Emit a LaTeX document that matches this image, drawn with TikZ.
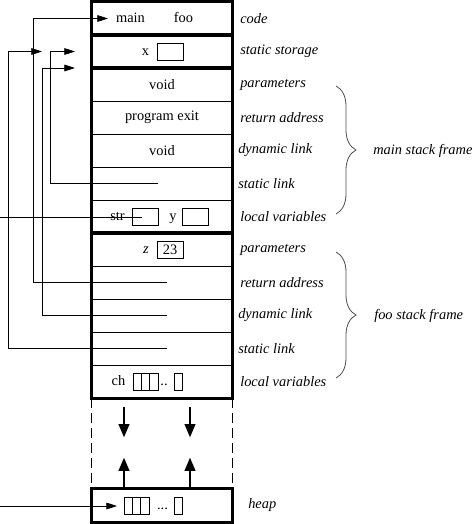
\documentclass[tikz,border=0pt]{standalone}
\usepackage{fontspec}
\setmainfont{Liberation Serif}
\usetikzlibrary{positioning}
\usetikzlibrary{arrows.meta}
\usetikzlibrary{decorations.pathreplacing}

\begin{document}
\begin{tikzpicture}[
        x=0.75pt, y=-0.75pt,
        font=\fontsize{10.8pt}{13pt}\selectfont,
        slot/.style={rectangle, draw, line width=0.6pt, minimum width=105pt, minimum height=24.75pt, inner sep=0pt},
        frame/.style={draw, line width=2.25pt},
        txt/.style={inner sep=0pt, text height=1.55ex, text depth=0.25ex},
        rolelabel/.style={anchor=west, inner sep=0pt, font=\fontsize{10.8pt}{13pt}\selectfont\itshape},
        varbox/.style={rectangle, draw, line width=0.6pt, minimum width=19.5pt, minimum height=12.75pt, inner sep=0pt},
        arrcell/.style={rectangle, draw, line width=0.6pt, minimum width=6.25pt, minimum height=12.75pt, inner sep=0pt},
        ptr/.style={-{Triangle[length=8pt, width=5pt]}, line width=0.6pt},
        growth/.style={-{Triangle[length=10pt, width=8pt]}, line width=1.5pt},
        frameline/.style={line width=0.6pt, dash pattern=on 7.5pt off 3.75pt},
        framebrace/.style={decorate, decoration={brace, amplitude=15pt}, line width=0.6pt, black!70},
        ]
        \useasboundingbox (0,0) rectangle (474,524);

        %Code and static storage
        \node[slot]     (code)     at (162,18.5)  {};
        \node[txt]      (cmain)    at (130.5,18.5) {main};
        \node[txt]      (cfoo)     at (183.5,18.5) {foo};
        \node[slot]     (static)   at (162,51.5)  {};
        \node[txt]      (xname)    at (145.5,51.5) {x};
        \node[varbox]   (xbox)     at (170,51.5)  {};

        %main stack frame
        \node[slot]     (mpar)     at (162,84.5)  {void};
        \node[slot]     (mret)     at (162,117.5) {program exit};
        \node[slot]     (mdyn)     at (162,150.5) {void};
        \node[slot]     (mstat)    at (162,183.5) {};
        \node[slot]     (mloc)     at (162,216.5) {};
        \node[txt]      (strname)  at (117.5,216.5) {str};
        \node[varbox]   (strbox)   at (145.5,216.5) {};
        \node[txt]      (yname)    at (173,216.5) {y};
        \node[varbox]   (ybox)     at (195,216.5) {};

        %foo stack frame
        \node[slot]     (fpar)     at (162,249.5) {};
        \node[txt]      (zname)    at (146,249.5) {\itshape z};
        \node[varbox]   (zbox)     at (170,249.5) {23};
        \node[slot]     (fret)     at (162,282.5) {};
        \node[slot]     (fdyn)     at (162,315.5) {};
        \node[slot]     (fstat)    at (162,348.5) {};
        \node[slot]     (floc)     at (162,381.5) {};
        \node[txt]      (chname)   at (118.5,381.5) {ch};
        \foreach \i in {0,1,2}
            \node[arrcell] (ch\i) at (137.2+8.33*\i,381.5) {};
        \node[txt]      (chdots)   at (164,381.5) {..};
        \node[arrcell]  (chlast)   at (178.5,381.5) {};

        %Heap
        \node[slot]     (heap)     at (162,505.5) {};
        \foreach \i in {0,1,2}
            \node[arrcell] (hp\i) at (128.2+8.33*\i,505.5) {};
        \node[txt]      (heapdots) at (162.5,505.5) {...};
        \node[arrcell]  (heaplast) at (178.5,505.5) {};

        %Frames
        \draw[frame] (code.north west)   rectangle (code.south east);
        \draw[frame] (static.north west) rectangle (static.south east);
        \draw[frame] (mpar.north west)   rectangle (mloc.south east);
        \draw[frame] (fpar.north west)   rectangle (floc.south east);
        \draw[frame] (heap.north west)   rectangle (heap.south east);
        \draw[frameline] (floc.south west) -- (heap.north west);
        \draw[frameline] (floc.south east) -- (heap.north east);

        %Labels
        \node[rolelabel] (lcode)   at (240,18.5)  {code};
        \node[rolelabel] (lstatic) at (240,51.5)  {static storage};
        \node[rolelabel] (lmpar)   at (240,84.5)  {parameters};
        \node[rolelabel] (lmret)   at (240,117.5) {return address};
        \node[rolelabel] (lmdyn)   at (238,150.5) {dynamic link};
        \node[rolelabel] (lmstat)  at (238,183.5) {static link};
        \node[rolelabel] (lmloc)   at (240,216.5) {local variables};
        \node[rolelabel] (lfpar)   at (240,249.5) {parameters};
        \node[rolelabel] (lfret)   at (240,282.5) {return address};
        \node[rolelabel] (lfdyn)   at (238,315.5) {dynamic link};
        \node[rolelabel] (lfstat)  at (238,348.5) {static link};
        \node[rolelabel] (lfloc)   at (240,381.5) {local variables};
        \node[rolelabel] (lheap)   at (248,505.5) {heap};

        %Braces
        \draw[framebrace] (336,86) -- (336,214);
        \node[rolelabel] (lmframe) at (373,150.5) {main stack frame};
        \draw[framebrace] (336,252) -- (336,378);
        \node[rolelabel] (lfframe) at (374,315.5) {foo stack frame};

        %Pointers
        \coordinate (fretp)     at (167,282.5);
        \coordinate (fdynp)     at (167,315.5);
        \coordinate (fstatp)    at (167,348.5);
        \coordinate (mstatp)    at (158,183.5);
        \coordinate (tomain)    at (108,18.5);
        \coordinate (tomframe)  at (75,68);
        \coordinate (tostatic)  at (42,51.5);
        \coordinate (tostatic2) at (75,51.5);
        \coordinate (strsrc)    at (0,217);
        \coordinate (strp)      at (142,217);
        \coordinate (heapsrc)   at (0,506);
        \coordinate (heapin)    at (117,506);

        \draw[ptr] (fretp)  -- ++(-134,0) |- (tomain);
        \draw[ptr] (fdynp)  -- ++(-125,0) |- (tomframe);
        \draw[ptr] (fstatp) -- ++(-159,0) |- (tostatic);
        \draw[ptr] (mstatp) -- ++(-108,0) |- (tostatic2);
        \draw[line width=0.6pt] (strsrc) -- (strp);
        \draw[ptr] (heapsrc) -- (heapin);

        %Growth
        \draw[growth] ([xshift=-28.5pt,yshift=-6.75pt]floc.south) -- ++(0,30);
        \draw[growth] ([xshift=21pt,yshift=-6.75pt]floc.south)    -- ++(0,30);
        \draw[growth] ([xshift=-28.5pt]heap.north) -- ++(0,-31);
        \draw[growth] ([xshift=21pt]heap.north)    -- ++(0,-31);
    \end{tikzpicture}
\end{document}
